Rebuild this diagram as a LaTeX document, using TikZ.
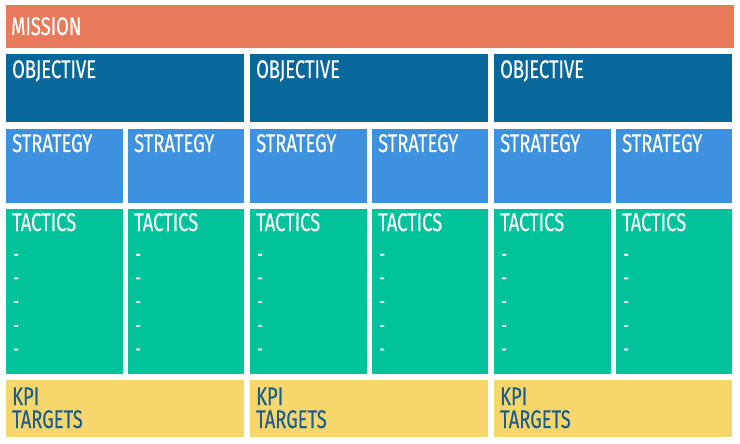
\documentclass[tikz,border=0pt]{standalone}
\usepackage{fontspec}
\setmainfont{Fira Sans}[FakeStretch=0.72,FakeBold=0.3]
\definecolor{cmission}{HTML}{E8795A}
\definecolor{cobj}{HTML}{08689B}
\definecolor{cstrat}{HTML}{3E91DE}
\definecolor{ctact}{HTML}{00C29B}
\definecolor{ckpi}{HTML}{F7D76C}
\definecolor{ckpitext}{HTML}{1E5E8C}
\tikzset{
  box/.style={fill=#1, draw=none, inner sep=0pt, anchor=north west, outer sep=0pt},
  lbl/.style={anchor=base west, inner sep=0pt, font=\fontsize{25.5}{28}\selectfont, text=white},
  kpilbl/.style={lbl, text=ckpitext},
  dashlbl/.style={lbl, font=\fontsize{20}{24}\selectfont}
}
\begin{document}
\begin{tikzpicture}[x=1pt,y=-1pt]
\useasboundingbox[fill=white] (0,0) rectangle (740,444);
% mission
\node[box=cmission, minimum width=728pt, minimum height=43pt] (mission) at (6,5) {};
\node[lbl] (missiont) at (11,35) {MISSION};
\foreach \c/\x in {1/6, 2/250, 3/494}{
  \node[box=cobj, minimum width=238pt, minimum height=68pt] (obj\c) at (\x,54) {};
  \node[lbl] (objt\c) at (\x+6,78) {OBJECTIVE};
  \node[box=cstrat, minimum width=117pt, minimum height=74pt] (stA\c) at (\x,129) {};
  \node[box=cstrat, minimum width=116pt, minimum height=74pt] (stB\c) at (\x+122,129) {};
  \node[lbl] (stAt\c) at (\x+6,152) {STRATEGY};
  \node[lbl] (stBt\c) at (\x+128,152) {STRATEGY};
  \node[box=ctact, minimum width=117pt, minimum height=165pt] (taA\c) at (\x,209) {};
  \node[box=ctact, minimum width=116pt, minimum height=165pt] (taB\c) at (\x+122,209) {};
  \node[lbl] (taAt\c) at (\x+6,231) {TACTICS};
  \node[lbl] (taBt\c) at (\x+128,231) {TACTICS};
  \foreach \k in {0,...,4}{
    \node[dashlbl] (dA\c\k) at (\x+7,261+23.7*\k) {-};
    \node[dashlbl] (dB\c\k) at (\x+129,261+23.7*\k) {-};
  }
  \node[box=ckpi, minimum width=238pt, minimum height=57pt] (kpi\c) at (\x,380) {};
  \node[kpilbl] (kpit\c) at (\x+6,405) {KPI};
  \node[kpilbl] (tgt\c) at (\x+6,428) {TARGETS};
}
\end{tikzpicture}
\end{document}
